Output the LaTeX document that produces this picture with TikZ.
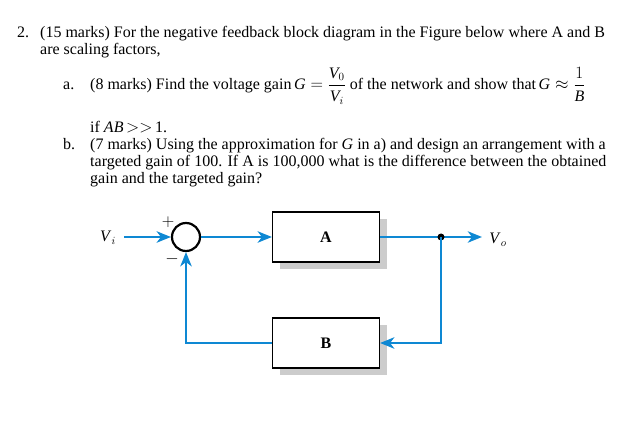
\documentclass[tikz,border=0pt]{standalone}
\usepackage{amsmath, amssymb}
\usepackage{fontspec}
\setmainfont{Liberation Serif}
\usetikzlibrary{positioning, arrows.meta, shadows}

\begin{document}
\begin{tikzpicture}[x=1pt, y=-1pt]
    % Define styles
    \tikzset{
        every node/.style={font=\fontsize{16}{17}\selectfont},
        txt/.style={anchor=base west, inner sep=0pt},
        block/.style={rectangle, draw, line width=1.2pt, fill=white, minimum width=107pt, minimum height=50pt,
            drop shadow={shadow xshift=7pt, shadow yshift=-7pt, fill=black!20, opacity=1}},
        sum/.style={circle, draw, line width=2.2pt, minimum size=28pt, inner sep=0pt},
        sig/.style={-{Stealth[length=5mm, width=4mm, inset=1.5mm]}, color=cyan!70!blue, line width=2.4pt},
        wire/.style={color=cyan!70!blue, line width=2.4pt}
    }
    \useasboundingbox (0,0) rectangle (640,430);

    % Question text
    \node (q) [txt] at (17,38) {2.};
    \node (q1) [txt] at (40,38) {(15 marks) For the negative feedback block diagram in the Figure below where A and B};
    \node (q2) [txt] at (40,55) {are scaling factors,};
    \node (qa) [txt] at (63,90) {a.};
    \node (qa1) [txt] at (90,90) {(8 marks) Find the voltage gain\,$\mathit{G}=\dfrac{\mathit{V}_0}{\mathit{V}_i}$ of the network and show that\,$\mathit{G}\approx\dfrac{1}{\mathit{B}}$};
    \node (qa2) [txt] at (90,133) {if \textit{AB}\,$>>$\,1.};
    \node (qb) [txt] at (63,150) {b.};
    \node (qb1) [txt] at (90,150) {(7 marks) Using the approximation for \textit{G} in a) and design an arrangement with a};
    \node (qb2) [txt] at (90,167) {targeted gain of 100. If A is 100,000 what is the difference between the obtained};
    \node (qb3) [txt] at (90,184) {gain and the targeted gain?};

    % Block diagram
    \node (vi) at (108,238) {\textit{V}$_i$};
    \coordinate (vin) at (124,237);
    \node (S) [sum] at (186,237) {};
    \node (A) [block] at (326,237) {\textbf{A}};
    \node (B) [block] at (326,343) {\textbf{B}};
    \coordinate (J) at (441,237);
    \coordinate (out) at (482,237);
    \node (vo) at (498,240) {\textit{V}$_o$};
    \node (plus) at (168,222) {$+$};
    \node (minus) at (172,259) {$-$};

    % Arrows between nodes
    \draw [sig] (vin) -- (S);
    \draw [sig] (S) -- (A);
    \draw [wire] (A) -- (J);
    \draw [sig] (J) -- (out);
    \fill (J) circle (3.5pt);
    \draw [sig] (J) |- (B);
    \draw [sig] (B) -| (S);
\end{tikzpicture}
\end{document}
